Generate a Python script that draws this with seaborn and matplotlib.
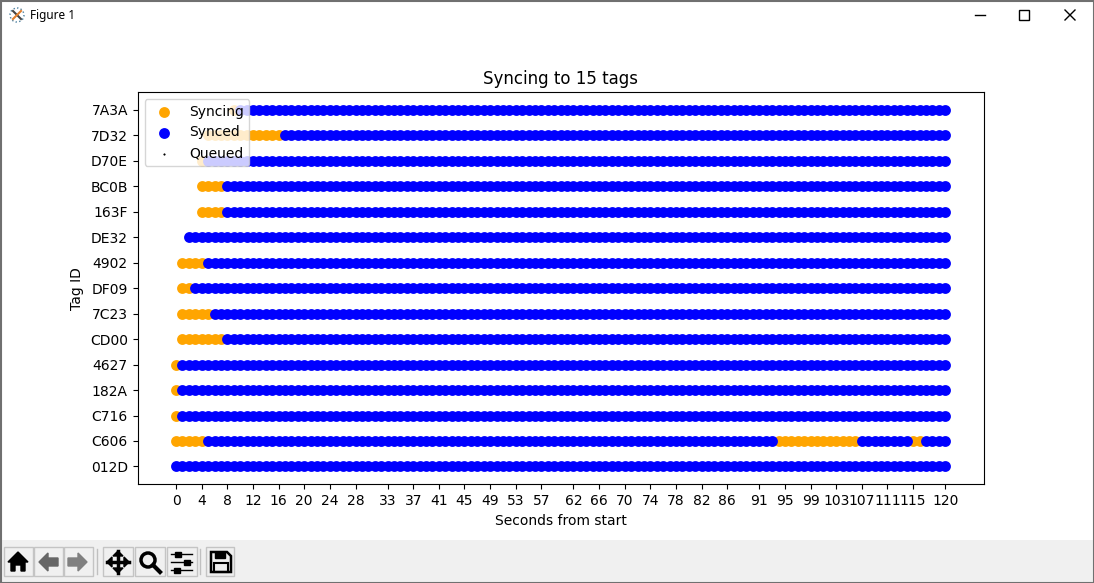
import numpy as np
import pandas as pd
import matplotlib
matplotlib.use("Agg")
import matplotlib.pyplot as plt
from matplotlib.patches import Rectangle, Circle, Polygon
import seaborn as sns

# rows from bottom to top
tags = ['012D', 'C606', 'C716', '182A', '4627', 'CD00', '7C23', 'DF09',
        '4902', 'DE32', '163F', 'BC0B', 'D70E', '7D32', '7A3A']

# (first second, last second) of each state, one list per tag
syncing_spans = [
    [], [(0, 4), (94, 106), (115, 116)], [(0, 0)], [(0, 0)], [(0, 0)],
    [(1, 7)], [(1, 5)], [(1, 2)], [(1, 4)], [],
    [(4, 7)], [(4, 7)], [(4, 4)], [(5, 16)], [(9, 9)],
]
synced_spans = [
    [(0, 120)], [(5, 93), (107, 114), (117, 120)], [(1, 120)], [(1, 120)], [(1, 120)],
    [(8, 120)], [(6, 120)], [(3, 120)], [(5, 120)], [(2, 120)],
    [(8, 120)], [(8, 120)], [(5, 120)], [(17, 120)], [(10, 120)],
]

x_ticks = [0, 4, 8, 12, 16, 20, 24, 28, 33, 37, 41, 45, 49, 53, 57, 62, 66, 70,
           74, 78, 82, 86, 91, 95, 99, 103, 107, 111, 115, 120]


def to_frame(spans):
    rows = []
    for row, tag_spans in enumerate(spans):
        for first, last in tag_spans:
            for sec in range(first, last + 1):
                rows.append((sec, row))
    return pd.DataFrame(rows, columns=['sec', 'row'])


W, H = 1094, 583
fig = plt.figure(figsize=(W / 100, H / 100), dpi=100)
ax = fig.add_axes([137.6 / W, 1 - 484.3 / H, (983.6 - 137.6) / W, (484.3 - 92) / H])

sns.scatterplot(data=to_frame(syncing_spans), x='sec', y='row', color='orange',
                s=36, edgecolor='face', linewidth=1.8, label='Syncing', ax=ax)
sns.scatterplot(data=to_frame(synced_spans), x='sec', y='row', color='blue',
                s=36, edgecolor='face', linewidth=1.8, label='Synced', ax=ax)
ax.scatter([], [], s=1, color='black', linewidths=0.5, label='Queued')

ax.set_yticks(range(len(tags)))
ax.set_yticklabels(tags)
ax.set_xticks(x_ticks)
ax.set_xticklabels(x_ticks)
ax.set_title('Syncing to 15 tags')
ax.set_xlabel('Seconds from start')
ax.set_ylabel('Tag ID')
ax.legend(loc='upper left')

# window frame around the figure, in pixel coordinates
ui = fig.add_axes([0, 0, 1, 1], zorder=-1)
ui.set_xlim(0, W)
ui.set_ylim(H, 0)
ui.axis('off')
ui.add_patch(Rectangle((0, 540), W, 43, color='#f0f0f0', lw=0))
ui.add_patch(Rectangle((0.5, 0.5), W - 1, H - 1, fill=False, ec='#707070', lw=1.5))
ui.text(30, 16, 'Figure 1', fontsize=8.5, family='Noto Sans', va='center')
ui.add_patch(Circle((17, 15), 7, fill=False, ec='#4a7f9f', lw=1, ls=':'))
ui.plot([13, 21], [11, 19], color='#444444', lw=1.5)
ui.plot([13, 21], [19, 11], color='#e08030', lw=1.5)
ui.plot([975, 985], [15, 15], color='black', lw=1)
ui.add_patch(Rectangle((1019, 10), 10, 10, fill=False, ec='black', lw=1))
ui.plot([1065, 1075], [10, 20], color='black', lw=1)
ui.plot([1065, 1075], [20, 10], color='black', lw=1)

# toolbar buttons
for left, right in [(4, 33), (34, 63), (64, 93), (103, 133), (135, 165), (167, 197), (206, 234)]:
    ui.add_patch(Rectangle((left, 547), right - left, 29, fc='#f0f0f0', ec='#c4c4c4', lw=1))
for left in [97, 200]:
    ui.plot([left, left], [549, 574], color='#c0c0c0', lw=1)

ui.add_patch(Polygon([(8, 562), (18, 552), (28, 562), (25, 562), (25, 571), (21, 571),
                      (21, 565), (15, 565), (15, 571), (11, 571), (11, 562)], color='black'))
ui.add_patch(Polygon([(39, 562), (48, 553), (48, 558), (58, 558), (58, 566), (48, 566), (48, 571)],
                     color='#666666'))
ui.add_patch(Polygon([(87, 562), (78, 553), (78, 558), (68, 558), (68, 566), (78, 566), (78, 571)],
                     color='#808080'))
ui.plot([107, 129], [562, 562], color='black', lw=2.5)
ui.plot([118, 118], [551, 573], color='black', lw=2.5)
for pts in [[(107, 562), (112, 557), (112, 567)], [(129, 562), (124, 557), (124, 567)],
            [(118, 551), (113, 556), (123, 556)], [(118, 573), (113, 568), (123, 568)]]:
    ui.add_patch(Polygon(pts, color='black'))
ui.add_patch(Circle((148, 560), 7, fill=False, ec='black', lw=2.5))
ui.plot([153, 160], [565, 572], color='black', lw=3)
for y, knob in zip([554, 562, 570], [178, 187, 177]):
    ui.plot([171, 192], [y, y], color='black', lw=1)
    ui.add_patch(Rectangle((knob - 3, y - 2.5), 6, 5, color='black'))
ui.add_patch(Polygon([(211, 552), (227, 552), (231, 556), (231, 572), (211, 572)],
                     fill=False, ec='black', lw=1.8))
ui.add_patch(Rectangle((215, 552), 10, 6, color='black'))
ui.add_patch(Rectangle((214, 563), 14, 9, fill=False, ec='black', lw=1.5))

fig.savefig('out.png', dpi=100)
